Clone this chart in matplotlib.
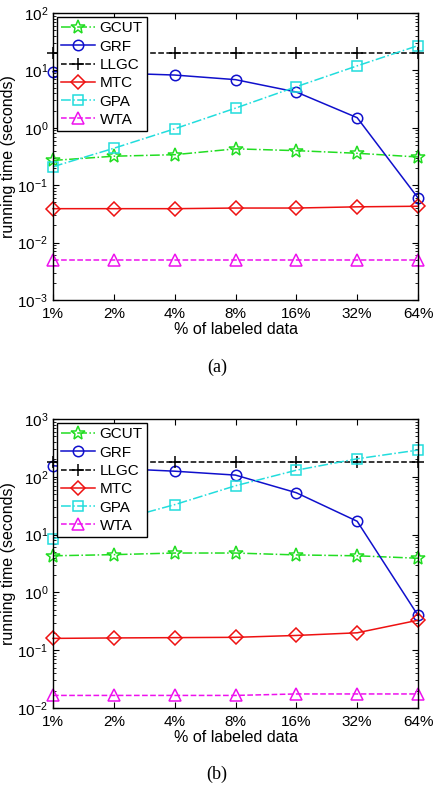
import matplotlib
matplotlib.use("Agg")
import matplotlib.pyplot as plt
from matplotlib.ticker import LogLocator, NullFormatter, LogFormatterMathtext

x_labels = ["1%", "2%", "4%", "8%", "16%", "32%", "64%"]
methods = ["GCUT", "GRF", "LLGC", "MTC", "GPA", "WTA"]

# panel (a)
a_gcut = [0.27, 0.32, 0.34, 0.43, 0.40, 0.36, 0.31]
a_grf = [9.5, 9.0, 8.3, 6.9, 4.2, 1.5, 0.06]
a_llgc = [20, 20, 20, 20, 20, 20, 20]
a_mtc = [0.039, 0.039, 0.039, 0.040, 0.040, 0.042, 0.043]
a_gpa = [0.21, 0.44, 0.96, 2.2, 5.2, 12, 27]
a_wta = [0.005, 0.005, 0.005, 0.005, 0.005, 0.005, 0.005]

# panel (b)
b_gcut = [4.3, 4.5, 4.8, 4.8, 4.45, 4.3, 3.9]
b_grf = [155, 140, 125, 107, 53, 17, 0.40]
b_llgc = [180, 180, 180, 180, 180, 180, 180]
b_mtc = [0.16, 0.163, 0.165, 0.167, 0.18, 0.20, 0.33]
b_gpa = [8.4, 17, 33, 70, 130, 205, 290]
b_wta = [0.0165, 0.0165, 0.0165, 0.0165, 0.0175, 0.0175, 0.0175]

styles = {
    "GCUT": dict(color="#22dd22", ls="-.", marker="*", ms=10),
    "GRF": dict(color="#1010cc", ls="-", marker="o", ms=7.5),
    "LLGC": dict(color="black", ls="--", marker="+", ms=9),
    "MTC": dict(color="#ee1111", ls="-", marker="D", ms=7),
    "GPA": dict(color="#22dddd", ls="-.", marker="s", ms=7),
    "WTA": dict(color="#ee11ee", ls="--", marker="^", ms=8),
}

plt.rcParams['font.family'] = ['Liberation Sans', 'DejaVu Sans']
plt.rcParams['mathtext.fontset'] = 'custom'
plt.rcParams['mathtext.rm'] = 'Liberation Sans'
plt.rcParams['mathtext.it'] = 'Liberation Sans:italic'

fig = plt.figure(figsize=(4.34, 7.86), dpi=100)
W, H = 434, 786

def make_axes(top, bottom):
    left, right = 53, 418
    return fig.add_axes([left / W, 1 - bottom / H, (right - left) / W, (bottom - top) / H])

panels = [
    (make_axes(13, 300), [a_gcut, a_grf, a_llgc, a_mtc, a_gpa, a_wta], (1e-3, 1e2), "(a)", 1 - 367 / H),
    (make_axes(419, 708), [b_gcut, b_grf, b_llgc, b_mtc, b_gpa, b_wta], (1e-2, 1e3), "(b)", 1 - 774 / H),
]

xs = list(range(len(x_labels)))
for ax, series, ylim, cap, capy in panels:
    for name, vals in zip(methods, series):
        st = styles[name]
        ax.plot(xs, vals, color=st["color"], ls=st["ls"], lw=1.1, marker=st["marker"],
                ms=st["ms"], mfc="none", mec=st["color"], mew=1.1, label=name, clip_on=False)
    ax.set_yscale("log")
    ax.set_ylim(*ylim)
    ax.set_xlim(0, len(x_labels) - 1)
    ax.set_xticks(xs)
    ax.set_xticklabels(x_labels, fontsize=11)
    ax.yaxis.set_major_locator(LogLocator(base=10, numticks=20))
    ax.yaxis.set_minor_locator(LogLocator(base=10, subs=range(2, 10), numticks=20))
    ax.yaxis.set_minor_formatter(NullFormatter())
    ax.yaxis.set_major_formatter(LogFormatterMathtext())
    ax.tick_params(axis="both", which="both", direction="in", top=True, right=True, labelsize=11)
    ax.tick_params(axis="both", which="major", length=4, width=0.8)
    ax.tick_params(axis="y", which="minor", length=2, width=0.6)
    ax.tick_params(axis="x", pad=5)
    for sp in ax.spines.values():
        sp.set_linewidth(1.0)
    ax.set_xlabel("% of labeled data", fontsize=11.5, labelpad=1)
    ax.set_ylabel("running time (seconds)", fontsize=11.5, labelpad=1)
    leg = ax.legend(loc="upper left", fontsize=11, frameon=True, fancybox=False,
                    edgecolor="black", framealpha=1, borderpad=0.3, labelspacing=0.28,
                    handlelength=2.2, handletextpad=0.3, borderaxespad=0.25)
    leg.get_frame().set_linewidth(1.0)
    fig.text(0.5, capy, cap, ha="center", va="center", fontsize=13, family="Liberation Serif")

fig.savefig("out.png", dpi=100)
